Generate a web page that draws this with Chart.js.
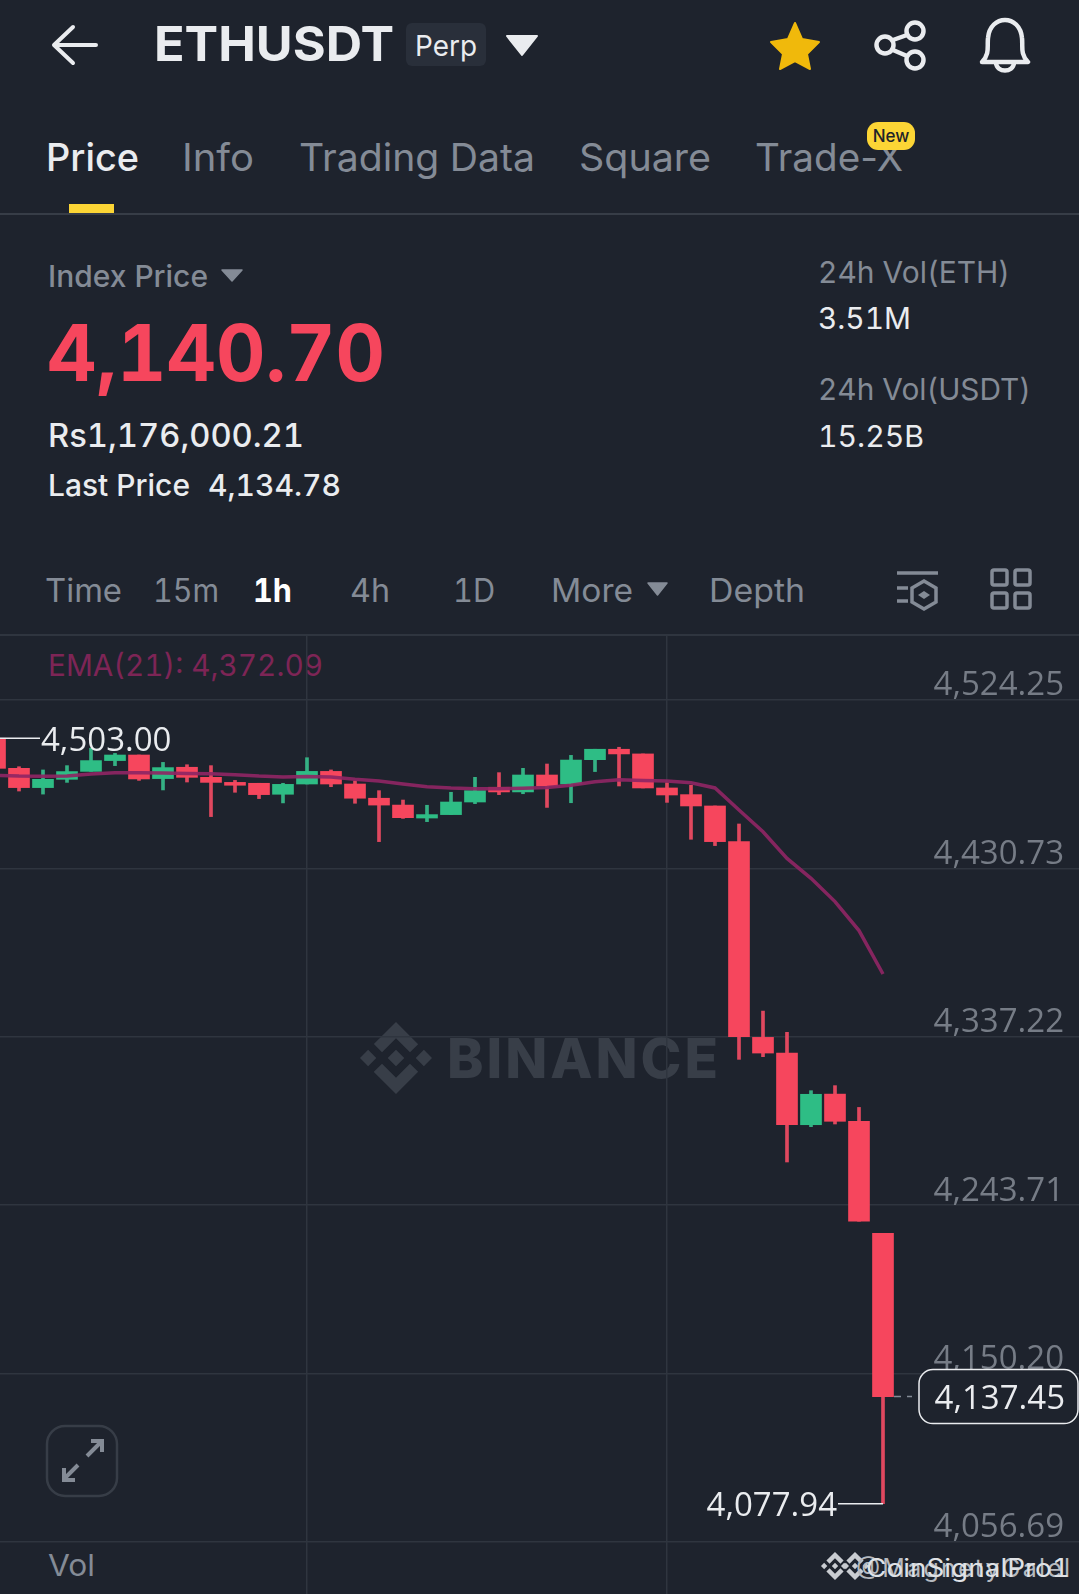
<!DOCTYPE html>
<html>
<head>
<meta charset="utf-8">
<title>ETHUSDT Perp</title>
<script src="https://cdn.jsdelivr.net/npm/chart.js@4"></script>
<style>
    html, body { margin: 0; padding: 0; background: #1e232d; }
    #page { position: relative; width: 1079px; height: 1594px; overflow: hidden; background: #1e232d; }
    #ui { position: absolute; left: 0; top: 0; }
    #ui text { font-family: Inter, "Open Sans", sans-serif; font-variant-numeric: tabular-nums; }
    #priceChart { position: absolute; left: 0; top: 635px; }
    .gray { fill: #848b96; }
    .white { fill: #eaecef; }
</style>
</head>
<body>
<div id="page">
<svg id="ui" width="1079" height="1594" viewBox="0 0 1079 1594">
    <defs>
        <path id="bnb" d="M12.116 14.404L16 10.52l3.886 3.886 2.26-2.26L16 6l-6.144 6.144 2.26 2.26zM6 16l2.26-2.26L10.52 16l-2.26 2.26L6 16zm6.116 1.596L16 21.48l3.886-3.886 2.26 2.259L16 26l-6.144-6.144-.003-.003 2.263-2.257zM21.48 16l2.26-2.26L26 16l-2.26 2.26L21.48 16zm-3.188-.002h.002V16L16 18.294l-2.291-2.29-.004-.004.004-.003.401-.402.195-.195L16 13.706l2.293 2.293z"/>
    </defs>

    <!-- top bar -->
    <path d="M96 45H55M73 27L54 45L73 63" fill="none" stroke="#eaecef" stroke-width="4" stroke-linecap="round" stroke-linejoin="round"/>
    <text x="154" y="61" font-size="48" font-weight="700" class="white" textLength="240" lengthAdjust="spacingAndGlyphs">ETHUSDT</text>
    <rect x="406" y="23" width="80" height="43" rx="6" fill="#292f3a"/>
    <text x="415" y="56" font-size="29" class="white" textLength="62" lengthAdjust="spacingAndGlyphs">Perp</text>
    <path d="M507 36H537L522 55Z" fill="#eaecef" stroke="#eaecef" stroke-width="2" stroke-linejoin="round"/>
    <path d="M795 23L802 39L819 42L807 54L810 69L795 61L780 69L783 54L771 42L788 39Z" fill="#f0b90b" stroke="#f0b90b" stroke-width="2" stroke-linejoin="round"/>
    <g fill="none" stroke="#eaecef" stroke-width="4.5">
        <circle cx="915" cy="31" r="8.5"/>
        <circle cx="915" cy="60" r="8.5"/>
        <circle cx="885" cy="45" r="8.5"/>
        <path d="M893 40L907 35M893 50L907 56"/>
        <path d="M982 62C990 54 987 46 988 38C990 14 1020 14 1022 38C1023 46 1020 54 1028 62Z" stroke-linejoin="round"/>
        <path d="M996 63C997 73 1013 73 1014 63"/>
    </g>

    <!-- tabs -->
    <text x="46" y="171" font-size="38" font-weight="500" class="white" textLength="93" lengthAdjust="spacingAndGlyphs">Price</text>
    <text x="182" y="171" font-size="38" class="gray" textLength="72" lengthAdjust="spacingAndGlyphs">Info</text>
    <text x="299" y="171" font-size="38" class="gray" textLength="236" lengthAdjust="spacingAndGlyphs">Trading Data</text>
    <text x="579" y="171" font-size="38" class="gray" textLength="132" lengthAdjust="spacingAndGlyphs">Square</text>
    <text x="755" y="171" font-size="38" class="gray" style="font-variant-numeric: normal" textLength="148" lengthAdjust="spacingAndGlyphs">Trade-X</text>
    <rect x="867" y="122" width="48" height="28" rx="11" fill="#fcd535"/>
    <text x="891" y="142" font-size="17" font-weight="500" fill="#1e2329" text-anchor="middle">New</text>
    <rect x="69" y="204" width="45" height="9" fill="#fcd535"/>
    <rect x="0" y="213" width="1079" height="2" fill="#373d47"/>

    <!-- price block -->
    <text x="48" y="287" font-size="30" font-weight="500" class="gray" textLength="160" lengthAdjust="spacingAndGlyphs">Index Price</text>
    <path d="M222 270H242L232 281Z" fill="#848b96" stroke="#848b96" stroke-width="1.5" stroke-linejoin="round"/>
    <text x="47" y="381" font-size="78" font-weight="700" fill="#f6465d" textLength="338" lengthAdjust="spacingAndGlyphs">4,140.70</text>
    <text x="48" y="447" font-size="32" font-weight="500" class="white" textLength="256" lengthAdjust="spacingAndGlyphs">Rs1,176,000.21</text>
    <text x="48" y="496" font-size="30" font-weight="500" class="white" textLength="142" lengthAdjust="spacingAndGlyphs">Last Price</text>
    <text x="208" y="496" font-size="30" font-weight="500" class="white" textLength="133" lengthAdjust="spacingAndGlyphs">4,134.78</text>
    <text x="818" y="283" font-size="30" class="gray" textLength="192" lengthAdjust="spacingAndGlyphs">24h Vol(ETH)</text>
    <text x="818" y="329" font-size="30" class="white" textLength="93" lengthAdjust="spacingAndGlyphs">3.51M</text>
    <text x="818" y="400" font-size="30" class="gray" textLength="213" lengthAdjust="spacingAndGlyphs">24h Vol(USDT)</text>
    <text x="818" y="447" font-size="30" class="white" textLength="106" lengthAdjust="spacingAndGlyphs">15.25B</text>

    <!-- interval row -->
    <text x="45" y="602" font-size="32" class="gray" textLength="77" lengthAdjust="spacingAndGlyphs">Time</text>
    <text x="153" y="602" font-size="32" class="gray" textLength="66" lengthAdjust="spacingAndGlyphs">15m</text>
    <text x="253" y="602" font-size="32" font-weight="700" fill="#fff" textLength="39" lengthAdjust="spacingAndGlyphs">1h</text>
    <text x="350" y="602" font-size="32" class="gray" textLength="40" lengthAdjust="spacingAndGlyphs">4h</text>
    <text x="453" y="602" font-size="32" class="gray" textLength="42" lengthAdjust="spacingAndGlyphs">1D</text>
    <text x="551" y="602" font-size="32" class="gray" textLength="82" lengthAdjust="spacingAndGlyphs">More</text>
    <path d="M648 583H667L657.5 595Z" fill="#848b96" stroke="#848b96" stroke-width="1.5" stroke-linejoin="round"/>
    <text x="709" y="602" font-size="32" class="gray" textLength="96" lengthAdjust="spacingAndGlyphs">Depth</text>
    <g fill="none" stroke="#848b96" stroke-width="3.5">
        <path d="M897 573H938M897 588H908M897 601H908"/>
        <path d="M924 581L936 588V602L924 609L912 602V588Z"/>
        <rect x="992" y="570" width="15" height="15" rx="2"/>
        <rect x="1015" y="570" width="15" height="15" rx="2"/>
        <rect x="992" y="593" width="15" height="15" rx="2"/>
        <rect x="1015" y="593" width="15" height="15" rx="2"/>
    </g>
    <path d="M924 591L930 595L924 599L918 595Z" fill="#848b96"/>
    <rect x="0" y="634" width="1079" height="2" fill="#2f353f"/>

    <text x="48" y="676" font-size="30" fill="#7d2556" textLength="275" lengthAdjust="spacingAndGlyphs">EMA(21): 4,372.09</text>

    <!-- watermark -->
    <use href="#bnb" transform="translate(338.4 1000.4) scale(3.6)" fill="#383e48"/>
    <text x="447" y="1078" font-size="55" font-weight="800" fill="#383e48" textLength="271" lengthAdjust="spacing">BINANCE</text>

    <!-- expand button -->
    <rect x="47" y="1426" width="70" height="70" rx="18" fill="none" stroke="#373d47" stroke-width="2.5"/>
    <g fill="none" stroke="#848b96" stroke-width="4">
        <path d="M87 1456L101 1442M91 1441H102V1452"/>
        <path d="M78 1465L64 1479M64 1468V1480H75"/>
    </g>

    <!-- footer -->
    <text x="48" y="1576" font-size="30" class="gray" textLength="47" lengthAdjust="spacingAndGlyphs">Vol</text>
    <use href="#bnb" transform="translate(812.6 1543.6) scale(1.4)" fill="#c9ccd1"/>
    <use href="#bnb" transform="translate(832.6 1543.6) scale(1.4)" fill="#c9ccd1"/>
    <text x="856" y="1577" font-size="25" fill="#b5b9bf" textLength="214" lengthAdjust="spacing">@MagnetyGalel</text>
    <text x="866" y="1577" font-size="25" fill="#dfe1e5" textLength="204" lengthAdjust="spacingAndGlyphs">CoinSignalPro1</text>
</svg>
<canvas id="priceChart" width="1079" height="959"></canvas>
</div>

<script>
const opens = [4503.0, 4486.3, 4475.6, 4480.2, 4484.6, 4490.6, 4493.7, 4480.6, 4486.9, 4481.3,
    4478.5, 4478.0, 4471.9, 4477.6, 4484.6, 4477.6, 4469.7, 4465.9, 4458.7, 4460.6,
    4467.6, 4475.8, 4473.2, 4482.6, 4477.6, 4491.1, 4496.9, 4494.3, 4475.4, 4471.7,
    4465.4, 4445.6, 4336.9, 4328.2, 4288.4, 4305.4, 4290.3, 4228.1];
const closes = [4486.3, 4475.6, 4480.2, 4484.5, 4490.6, 4493.7, 4480.4, 4486.7, 4481.3, 4478.5,
    4476.9, 4471.7, 4477.4, 4484.6, 4477.6, 4469.7, 4465.9, 4458.9, 4460.6, 4467.6,
    4473.9, 4473.2, 4482.6, 4476.5, 4490.9, 4496.9, 4494.3, 4475.4, 4471.5, 4465.4,
    4445.6, 4337.3, 4328.2, 4288.4, 4305.3, 4290.3, 4234.8, 4137.45];
const highs = [4503.0, 4487.2, 4485.4, 4487.8, 4497.4, 4494.6, 4493.7, 4489.6, 4488.3, 4487.8,
    4479.6, 4478.0, 4478.0, 4492.2, 4485.4, 4479.3, 4473.9, 4468.7, 4465.8, 4473.0,
    4481.3, 4483.9, 4486.3, 4488.7, 4493.5, 4496.9, 4498.0, 4494.3, 4478.3, 4476.9,
    4465.4, 4455.4, 4351.5, 4339.7, 4307.3, 4310.1, 4298.0, 4228.1];
const lows = [4486.3, 4473.7, 4472.0, 4478.5, 4484.6, 4487.8, 4479.6, 4474.3, 4478.7, 4459.5,
    4473.0, 4469.5, 4467.1, 4477.6, 4476.1, 4466.9, 4445.6, 4458.5, 4456.7, 4460.6,
    4466.7, 4471.7, 4472.2, 4464.6, 4467.2, 4484.5, 4476.5, 4475.4, 4467.4, 4446.9,
    4443.4, 4324.7, 4326.2, 4267.7, 4287.3, 4288.8, 4234.8, 4077.94];
const ema21 = [4482.4, 4482.0, 4481.9, 4482.0, 4483.2, 4483.9, 4483.9, 4483.7, 4483.5, 4483.3,
    4482.8, 4482.0, 4481.5, 4481.7, 4481.5, 4480.2, 4479.3, 4477.6, 4476.1, 4475.4,
    4475.0, 4475.0, 4475.2, 4475.6, 4476.9, 4478.9, 4480.0, 4479.6, 4479.3, 4478.3,
    4475.4, 4463.2, 4451.1, 4436.3, 4425.2, 4412.3, 4396.2, 4372.1];
const priceTicks = [4524.25, 4430.73, 4337.22, 4243.71, 4150.20, 4056.69];
const timeGridSlots = [13, 28];

const RED = '#f6465d';
const GREEN = '#2ebd85';
const GRID = '#2f353f';
const CANVAS_FONT = '"Open Sans", Inter, sans-serif';
const fmt = v => v.toLocaleString('en-US', { minimumFractionDigits: 2, maximumFractionDigits: 2 });

const slots = opens.map((_, i) => i);
const candleColors = opens.map((o, i) => closes[i] >= o ? GREEN : RED);
const wickColors = opens.map((o, i) => closes[i] >= o ? '#35b184' : '#e0485f');

// high / low / last price call-outs, placed through the scales
const priceMarks = {
    id: 'priceMarks',
    afterDatasetsDraw(chart) {
        const { ctx, scales: { x, y } } = chart;
        ctx.save();
        ctx.font = '33px ' + CANVAS_FONT;
        ctx.textBaseline = 'middle';
        ctx.lineWidth = 1.5;
        ctx.strokeStyle = '#eaecef';
        ctx.fillStyle = '#eaecef';

        const hy = y.getPixelForValue(highs[0]);
        ctx.beginPath();
        ctx.moveTo(x.getPixelForValue(0), hy);
        ctx.lineTo(40, hy);
        ctx.stroke();
        ctx.textAlign = 'left';
        ctx.fillText(fmt(highs[0]), 41, hy + 3);

        const last = slots.length - 1;
        const ly = y.getPixelForValue(lows[last]);
        const lx = x.getPixelForValue(last);
        ctx.beginPath();
        ctx.moveTo(lx, ly);
        ctx.lineTo(lx - 45, ly);
        ctx.stroke();
        ctx.textAlign = 'right';
        ctx.fillText(fmt(lows[last]), lx - 46, ly + 3);

        const cy = y.getPixelForValue(closes[last]);
        ctx.setLineDash([7, 6]);
        ctx.strokeStyle = '#848b96';
        ctx.beginPath();
        ctx.moveTo(lx + 11, cy);
        ctx.lineTo(912, cy);
        ctx.stroke();
        ctx.setLineDash([]);
        ctx.strokeStyle = '#eaecef';
        ctx.fillStyle = '#1e232d';
        ctx.beginPath();
        ctx.roundRect(919, cy - 27, 159, 54, 14);
        ctx.fill();
        ctx.stroke();
        ctx.fillStyle = '#eaecef';
        ctx.fillText(fmt(closes[last]), 1065, cy + 3);
        ctx.restore();
    }
};

new Chart(document.getElementById('priceChart').getContext('2d'), {
    type: 'bar',
    data: {
        datasets: [
            {
                type: 'line',
                label: 'EMA(21)',
                data: slots.map(i => ({ x: i, y: ema21[i] })),
                borderColor: 'rgba(142, 38, 100, 0.92)',
                borderWidth: 3.5,
                pointRadius: 0,
                tension: 0,
                order: 0
            },
            {
                label: 'Body',
                data: slots.map(i => ({ x: i, y: [opens[i], closes[i]] })),
                backgroundColor: candleColors,
                barThickness: 21,
                borderSkipped: false,
                order: 1
            },
            {
                label: 'Wick',
                data: slots.map(i => ({ x: i, y: [lows[i], highs[i]] })),
                backgroundColor: wickColors,
                barThickness: 3,
                borderSkipped: false,
                order: 2
            }
        ]
    },
    options: {
        responsive: false,
        animation: false,
        grouped: false,
        layout: { padding: 0 },
        plugins: { legend: { display: false }, tooltip: { enabled: false } },
        scales: {
            x: {
                type: 'linear',
                offset: false,
                min: 5 / 24,
                max: 1084 / 24,
                afterBuildTicks: scale => { scale.ticks = timeGridSlots.map(v => ({ value: v })); },
                afterFit: scale => {
                    scale.height = 0;
                    scale.paddingLeft = 0;
                    scale.paddingRight = 0;
                },
                ticks: { display: false },
                border: { display: false },
                grid: { color: GRID, lineWidth: 1.5, offset: false, drawTicks: false }
            },
            y: {
                position: 'right',
                min: 4027.81,
                max: 4560.34,
                afterBuildTicks: scale => { scale.ticks = priceTicks.map(v => ({ value: v })); },
                afterFit: scale => {
                    scale.width = 0;
                    scale.paddingTop = 0;
                    scale.paddingBottom = 0;
                },
                ticks: {
                    mirror: true,
                    padding: -15,
                    labelOffset: -14,
                    autoSkip: false,
                    color: '#767c86',
                    font: { family: CANVAS_FONT, size: 33 },
                    callback: v => fmt(v)
                },
                border: { display: false },
                grid: { color: GRID, lineWidth: 1.5, drawTicks: false }
            }
        }
    },
    plugins: [priceMarks]
});
</script>
</body>
</html>
